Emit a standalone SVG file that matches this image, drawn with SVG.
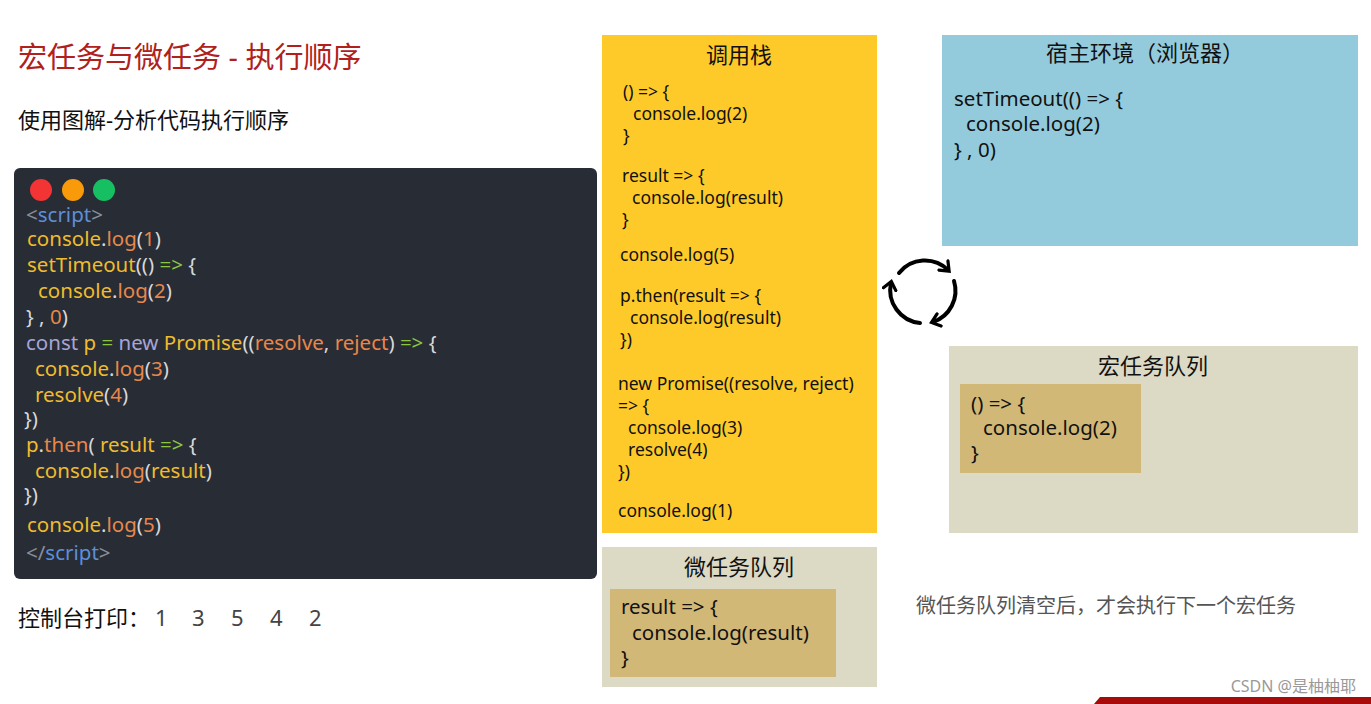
<svg xmlns="http://www.w3.org/2000/svg" width="1371" height="704" viewBox="0 0 1371 704">
<style>
text{font-family:"Noto Sans","Noto Sans CJK SC",sans-serif}
.c{font-size:20.5px}
.y{fill:#eebc2c}.o{fill:#e8874a}.g{fill:#8cc540}.p{fill:#a8a4d4}.b{fill:#5d8fd8}.w{fill:#d8d8d8}.gr{fill:#8a8f99}
.k{font-size:17.5px;fill:#111}
.h{font-size:22px;fill:#111}
.q{font-size:20.5px;fill:#111}
</style>
<defs>
<marker id="ah" viewBox="0 0 10 10" refX="5" refY="5" markerWidth="4" markerHeight="4" orient="auto"><path d="M1,1 L6,5 L1,9" fill="none" stroke="#000" stroke-width="2" stroke-linecap="round"/></marker>
</defs>
<rect width="1371" height="704" fill="#fff"/>
<text x="18" y="68" font-size="29" fill="#b0201c">宏任务与微任务 - 执行顺序</text>
<text x="18" y="128" font-size="22" fill="#111">使用图解-分析代码执行顺序</text>
<g id="code">
<rect x="14" y="168" width="583" height="411" rx="6" fill="#282c35"/>
<circle cx="41" cy="190" r="11" fill="#f23434"/><circle cx="73" cy="190" r="11" fill="#f89a0a"/><circle cx="104" cy="190" r="11" fill="#17bf63"/>
<text class="c" x="26" y="222"><tspan class="gr">&lt;</tspan><tspan class="b">script</tspan><tspan class="gr">&gt;</tspan></text>
<text class="c" x="27" y="246"><tspan class="y">console</tspan><tspan class="w">.</tspan><tspan class="o">log</tspan><tspan class="w">(</tspan><tspan class="o">1</tspan><tspan class="w">)</tspan></text>
<text class="c" x="27" y="272"><tspan class="y">setTimeout</tspan><tspan class="w">(() </tspan><tspan class="g">=&gt;</tspan><tspan class="w"> {</tspan></text>
<text class="c" x="38" y="298"><tspan class="y">console</tspan><tspan class="w">.</tspan><tspan class="o">log</tspan><tspan class="w">(</tspan><tspan class="o">2</tspan><tspan class="w">)</tspan></text>
<text class="c" x="26" y="324"><tspan class="w">} , </tspan><tspan class="o">0</tspan><tspan class="w">)</tspan></text>
<text class="c" x="26" y="350"><tspan class="p">const </tspan><tspan class="y">p</tspan><tspan class="g"> = </tspan><tspan class="p">new </tspan><tspan class="y">Promise</tspan><tspan class="w">((</tspan><tspan class="o">resolve</tspan><tspan class="w">, </tspan><tspan class="o">reject</tspan><tspan class="w">) </tspan><tspan class="g">=&gt;</tspan><tspan class="w"> {</tspan></text>
<text class="c" x="35" y="376"><tspan class="y">console</tspan><tspan class="w">.</tspan><tspan class="o">log</tspan><tspan class="w">(</tspan><tspan class="o">3</tspan><tspan class="w">)</tspan></text>
<text class="c" x="35" y="402"><tspan class="y">resolve</tspan><tspan class="w">(</tspan><tspan class="o">4</tspan><tspan class="w">)</tspan></text>
<text class="c w" x="24" y="426">})</text>
<text class="c" x="26" y="452"><tspan class="y">p</tspan><tspan class="w">.</tspan><tspan class="o">then</tspan><tspan class="w">( </tspan><tspan class="y">result</tspan><tspan class="g"> =&gt;</tspan><tspan class="w"> {</tspan></text>
<text class="c" x="35" y="478"><tspan class="y">console</tspan><tspan class="w">.</tspan><tspan class="o">log</tspan><tspan class="w">(</tspan><tspan class="y">result</tspan><tspan class="w">)</tspan></text>
<text class="c w" x="24" y="502">})</text>
<text class="c" x="27" y="532"><tspan class="y">console</tspan><tspan class="w">.</tspan><tspan class="o">log</tspan><tspan class="w">(</tspan><tspan class="o">5</tspan><tspan class="w">)</tspan></text>
<text class="c" x="26" y="560"><tspan class="gr">&lt;/</tspan><tspan class="b">script</tspan><tspan class="gr">&gt;</tspan></text>
</g>
<text x="18" y="626" font-size="22" fill="#111">控制台打印：</text>
<g font-size="22" fill="#444"><text x="155" y="626">1</text><text x="192" y="626">3</text><text x="231" y="626">5</text><text x="270" y="626">4</text><text x="309" y="626">2</text></g>
<g id="stack">
<rect x="602" y="35" width="275" height="498" fill="#fdca2a"/>
<text class="h" x="739" y="63" text-anchor="middle">调用栈</text>
<text class="k" x="623" y="98">() =&gt; {</text><text class="k" x="633" y="120">console.log(2)</text><text class="k" x="623" y="142">}</text>
<text class="k" x="622" y="182">result =&gt; {</text><text class="k" x="632" y="204">console.log(result)</text><text class="k" x="622" y="226">}</text>
<text class="k" x="620" y="261">console.log(5)</text>
<text class="k" x="620" y="302">p.then(result =&gt; {</text><text class="k" x="630" y="324">console.log(result)</text><text class="k" x="620" y="346">})</text>
<text class="k" x="618" y="390">new Promise((resolve, reject)</text><text class="k" x="618" y="412">=&gt; {</text><text class="k" x="628" y="434">console.log(3)</text><text class="k" x="628" y="456">resolve(4)</text><text class="k" x="618" y="478">})</text>
<text class="k" x="618" y="517">console.log(1)</text>
</g>
<g id="host">
<rect x="942" y="35" width="416" height="211" fill="#94cbdc"/>
<text class="h" x="1145" y="61" text-anchor="middle">宿主环境（浏览器）</text>
<text class="q" x="954" y="106">setTimeout(() =&gt; {</text><text class="q" x="966" y="131">console.log(2)</text><text class="q" x="954" y="157">} , 0)</text>
</g>
<g id="macro">
<rect x="949" y="346" width="409" height="187" fill="#dcd9c5"/>
<text class="h" x="1153" y="374" text-anchor="middle">宏任务队列</text>
<rect x="960" y="384" width="181" height="89" fill="#d1b877"/>
<text class="q" x="971" y="411">() =&gt; {</text><text class="q" x="983" y="435">console.log(2)</text><text class="q" x="971" y="460">}</text>
</g>
<g id="micro">
<rect x="602" y="547" width="275" height="140" fill="#dcd9c5"/>
<text class="h" x="739" y="575" text-anchor="middle">微任务队列</text>
<rect x="610" y="589" width="226" height="88" fill="#d1b877"/>
<text class="q" x="621" y="614">result =&gt; {</text><text class="q" x="632" y="640">console.log(result)</text><text class="q" x="621" y="665">}</text>
</g>
<g id="connectors" fill="none" stroke="#000" stroke-width="4" stroke-linecap="round">
<path d="M899,273 A33,33 0 0 1 948,270" marker-end="url(#ah)"/>
<path d="M954,281 A33,33 0 0 1 933,322" marker-end="url(#ah)"/>
<path d="M920,323 A33,33 0 0 1 891,283" marker-end="url(#ah)"/>
</g>
<text x="916" y="613" font-size="20" fill="#555">微任务队列清空后，才会执行下一个宏任务</text>
<text x="1356" y="692" font-size="16" fill="#999" text-anchor="end">CSDN @是柚柚耶</text>
<polygon points="1100,697 1371,697 1371,704 1094,704" fill="#a80a0a"/>
</svg>
